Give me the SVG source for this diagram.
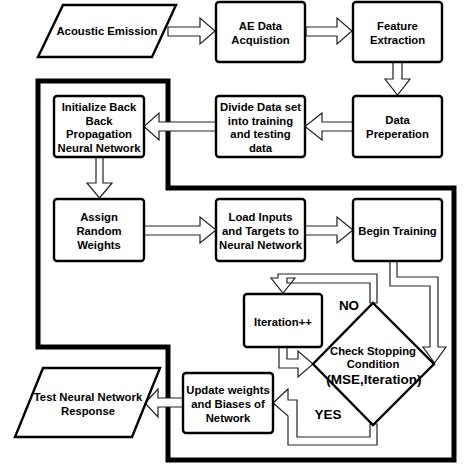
<svg xmlns="http://www.w3.org/2000/svg" width="474" height="474" viewBox="0 0 474 474">
<style>
.box{fill:#fff;stroke:#000;stroke-width:2.4}
.arr{fill:#fff;stroke:#222;stroke-width:1.2;stroke-linejoin:miter}
.frame{fill:none;stroke:#000;stroke-width:5}
text{font-family:"Liberation Sans",Arial,sans-serif;font-weight:bold;font-size:11.3px;text-anchor:middle;fill:#000}
.big{font-size:13.5px}
</style>
<rect width="474" height="474" fill="#fff"/>
<polygon class="frame" points="38,81 168,81 168,188 454,188 454,460 168,460 168,347 38,347"/>
<g id="connectors">
<path class="arr" d="M168,27 H200 V18 L215,31 L200,44 V36 H168 Z"/>
<path class="arr" d="M306,27 H337 V18 L352,31 L337,44 V36 H306 Z"/>
<path class="arr" d="M393,62 V79 H385 L397.5,95 L410,79 H402 V62 Z"/>
<path class="arr" d="M353,122 H322 V113 L305,126.5 L322,140 V131 H353 Z"/>
<path class="arr" d="M216,122 H159 V113 L144,126.5 L159,140 V131 H216 Z"/>
<path class="arr" d="M96,157 V183 H87 L99.5,198 L112,183 H103 V157 Z"/>
<path class="arr" d="M144,226 H200 V217 L216,230 L200,243 V235 H144 Z"/>
<path class="arr" d="M305,226 H337 V217 L353,230 L337,243 V235 H305 Z"/>
<path class="arr" d="M390,261 V286 H430 V347 H423 L434.5,363 L446,347 H438 V277 H397 V261 Z"/>
<path class="arr" d="M377,303 V274 H278 V278 H271 L283,293 L295,278 H287 V283 H370 V303 Z"/>
<path class="arr" d="M279,347 V368 H298 V377 L313,364 L298,351 V359 H287 V347 Z"/>
<path class="arr" d="M377,424 V445 H288 V416 L273,403 L288,389 V400 H297 V437 H370 V424 Z"/>
<path class="arr" d="M183,398 H158 V389 L145,403 L158,417 V407 H183 Z"/>
</g>
<g id="acoustic"><polygon class="box" points="63,5 176,5 152,57 38,57"/><text x="107" y="35">Acoustic Emission</text></g>
<g id="aedata"><rect class="box" x="216" y="2" width="89" height="60" rx="3"/><text x="260.5" y="29.5">AE Data</text><text x="260.5" y="43.5">Acquistion</text></g>
<g id="feature"><rect class="box" x="353" y="2" width="89" height="60" rx="3"/><text x="397.5" y="29.5">Feature</text><text x="397.5" y="43.5">Extraction</text></g>
<g id="dataprep"><rect class="box" x="353" y="96" width="89" height="61" rx="3"/><text x="397.5" y="124">Data</text><text x="397.5" y="138">Preperation</text></g>
<g id="divide"><rect class="box" x="216" y="96" width="89" height="61" rx="3"/><text x="260.5" y="111">Divide Data set</text><text x="260.5" y="124.5">into training</text><text x="260.5" y="138">and testing</text><text x="260.5" y="152">data</text></g>
<g id="init"><rect class="box" x="54" y="96" width="90" height="61" rx="3"/><text x="99" y="111">Initialize Back</text><text x="99" y="124.5">Back</text><text x="99" y="138">Propagation</text><text x="99" y="152">Neural Network</text></g>
<g id="assign"><rect class="box" x="54" y="199" width="90" height="62" rx="3"/><text x="99" y="221">Assign</text><text x="99" y="235">Random</text><text x="99" y="249">Weights</text></g>
<g id="load"><rect class="box" x="216" y="199" width="89" height="62" rx="3"/><text x="260.5" y="221">Load Inputs</text><text x="260.5" y="235">and Targets to</text><text x="260.5" y="249">Neural Network</text></g>
<g id="begin"><rect class="box" x="353" y="199" width="89" height="62" rx="3"/><text x="397.5" y="235">Begin Training</text></g>
<g id="iteration"><rect class="box" x="244" y="294" width="78" height="53" rx="3"/><text x="283" y="326">Iteration++</text></g>
<g id="check"><polygon class="box" fill-opacity="0" points="373,303 434,364 373,425 313,364"/><text x="373" y="355">Check Stopping</text><text x="373" y="368">Condition</text><text class="big" x="374" y="384">(MSE,Iteration)</text></g>
<g id="update"><rect class="box" x="183" y="373" width="90" height="60" rx="3"/><text x="228" y="394">Update weights</text><text x="228" y="408">and Biases of</text><text x="228" y="422">Network</text></g>
<g id="test"><polygon class="box" points="43,368 160,368 132,437 15,437"/><text x="88" y="401">Test Neural Network</text><text x="88" y="415">Response</text></g>
<text class="big" x="349" y="310">NO</text>
<text class="big" x="328" y="419">YES</text>
</svg>
